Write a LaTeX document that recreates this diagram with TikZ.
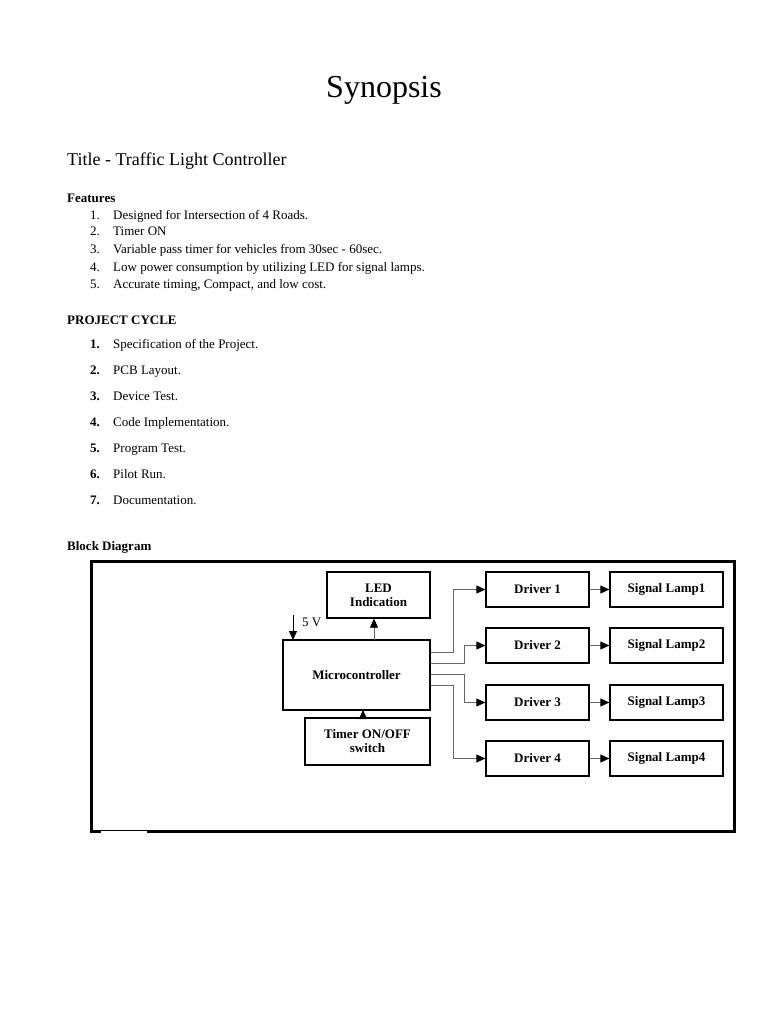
\documentclass[tikz,border=0pt]{standalone}
\usepackage{fontspec}
\setmainfont{Liberation Serif}
\usetikzlibrary{arrows.meta}
\begin{document}
\begin{tikzpicture}[x=1pt,y=-1pt,
  blk/.style={draw,line width=1.3pt,font=\fontsize{13}{14}\selectfont\bfseries,align=center,inner sep=0},
  txt/.style={anchor=base west,inner sep=0,font=\fontsize{13}{15}\selectfont},
  con/.style={draw=black!60,line width=0.8pt,-{Triangle[length=9pt,width=8pt,fill=black,color=black]}}]
\useasboundingbox[fill=white] (0,0) rectangle (768,1024);
\node[inner sep=0,font=\fontsize{32}{36}\selectfont] (syn) at (384,90) {Synopsis};
\node[anchor=base west,inner sep=0,font=\fontsize{18}{20}\selectfont] (ttl) at (67,166) {Title - Traffic Light Controller};
\node[txt,font=\fontsize{13}{15}\selectfont\bfseries] (feat) at (67,203) {Features};
\foreach \i/\t [count=\k] in {215/Designed for Intersection of 4 Roads.,232/Timer ON/OFF selection for Night/Day time operation.,249/Variable pass timer for vehicles from 30sec - 60sec.,267/Low power consumption by utilizing LED for signal lamps.,284/{Accurate timing, Compact, and low cost.}}{
  \node[txt] (fn\k) at (90,\i+4) {\k.};
  \node[txt] (ft\k) at (113,\i+4) {\t};
}
\node[txt,font=\fontsize{13}{15}\selectfont\bfseries] (pc) at (67,324) {PROJECT CYCLE};
\foreach \i/\t [count=\k] in {344/Specification of the Project.,370/PCB Layout.,396/Device Test.,422/Code Implementation.,448/Program Test.,474/Pilot Run.,500/Documentation.}{
  \node[txt,font=\fontsize{13}{15}\selectfont\bfseries] (pn\k) at (90,\i+4) {\k.};
  \node[txt] (pt\k) at (113,\i+4) {\t};
}
\node[txt,font=\fontsize{13}{15}\selectfont\bfseries] (bd) at (67,550) {Block Diagram};
\draw[line width=3pt] (91,561) rectangle (734,831);
\draw[white,line width=1.5pt] (101,831.8) -- (147,831.8);
\node[blk,minimum width=103,minimum height=46] (led) at (378.5,595) {LED\\Indication};
\node[blk,minimum width=147,minimum height=70] (mc) at (356.5,675) {Microcontroller};
\node[blk,minimum width=125,minimum height=47] (tm) at (367.5,741.5) {Timer ON/OFF\\switch};
\foreach \k/\y in {1/589.5,2/645.5,3/702.5,4/758.5}{
  \node[blk,minimum width=103,minimum height=35] (d\k) at (537.5,\y) {Driver \k};
  \node[blk,minimum width=113,minimum height=35] (l\k) at (666.5,\y) {Signal Lamp\k};
  \draw[con] (d\k) -- (l\k);
}
\coordinate (v5) at (293,615);
\draw[line width=0.8pt,-{Triangle[length=9pt,width=8pt]}] (v5) -- (293,640);
\node[anchor=base west,inner sep=0,font=\fontsize{13}{15}\selectfont] (fv) at (302,626) {5 V};
\draw[con] (374,640) -- (led.south -| 374,0);
\draw[con] (tm.north -| 363,0) -- (363,710);
\draw[con] (mc.east |- 0,652) -- (453,652) |- (d1.west);
\draw[con] (mc.east |- 0,663) -- (464,663) |- (d2.west);
\draw[con] (mc.east |- 0,674) -- (464,674) |- (d3.west);
\draw[con] (mc.east |- 0,685) -- (453,685) |- (d4.west);
\end{tikzpicture}
\end{document}
